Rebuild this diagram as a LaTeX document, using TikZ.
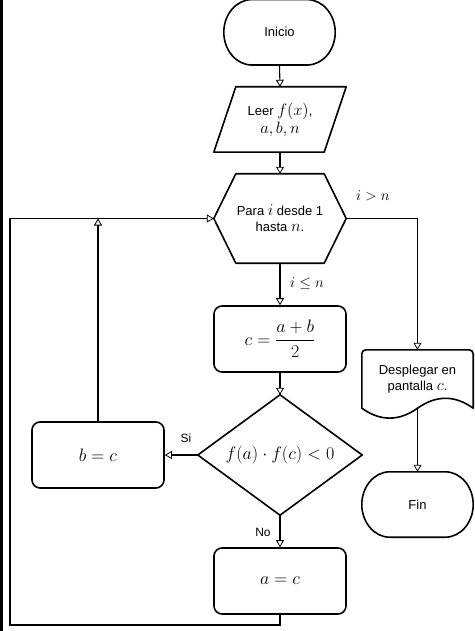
\RequirePackage{fix-cm}
\documentclass[tikz,border=0pt]{standalone}
\usepackage{fontspec}
\setmainfont{Liberation Sans}
\usetikzlibrary{arrows.meta,calc}
\newcommand\mathbig[1]{{\fontsize{18}{22}\selectfont$\displaystyle #1$}}
\newcommand\mathmid[1]{{\fontsize{16.5}{18}\selectfont$#1$}}
\newcommand\mathlbl[1]{{\fontsize{15}{18}\selectfont$#1$}}
% terminator outline with half-elliptic ends (rx=28, ry=32.5)
\newcommand\termoutline[1]{%
  \draw[shapeline] ([xshift=28pt]#1.north west) -- ([xshift=-28pt]#1.north east)
    .. controls +(15.5,0) and +(0,-17.9) .. (#1.east)
    .. controls +(0,17.9) and +(15.5,0) .. ([xshift=-28pt]#1.south east)
    -- ([xshift=28pt]#1.south west)
    .. controls +(-15.5,0) and +(0,17.9) .. (#1.west)
    .. controls +(0,-17.9) and +(-15.5,0) .. ([xshift=28pt]#1.north west) -- cycle;}
\begin{document}
\begin{tikzpicture}[x=1pt,y=-1pt,
  txt/.style={font=\fontsize{13}{16}\selectfont, align=center, text=black},
  shapeline/.style={draw=black, line width=1.6pt, line join=round},
  boxnode/.style={txt, shapeline, rounded corners=8pt, minimum width=132pt, minimum height=66pt, inner sep=0pt},
  termnode/.style={txt, minimum width=111pt, minimum height=65pt, inner sep=0pt},
  ghost/.style={txt, inner sep=0pt},
  conn/.style={draw=black, line width=1.1pt, -{Triangle[length=7pt, width=8pt, fill=white, line width=0.8pt]}},
  lbl/.style={font=\fontsize{12}{14}\selectfont, inner sep=0pt, text=black}]
\useasboundingbox (0,0) rectangle (474,631);
\fill[black] (0,0) rectangle (2.7,631);

% nodes
\node[termnode] (inicio) at (279.5,32.3) {Inicio};
\termoutline{inicio}
\node[ghost, minimum width=110pt, minimum height=65pt] (leer) at (280,119.5)
  {Leer \mathmid{f(x)},\\[2pt] \mathmid{a, b, n}};
\draw[shapeline] ([xshift=11pt]leer.north west) -- ([xshift=11pt]leer.north east)
  -- ([xshift=-11pt]leer.south east) -- ([xshift=-11pt]leer.south west) -- cycle;

\node[ghost, minimum width=132pt, minimum height=89pt] (hex) at (280,218.5)
  {Para \mathmid{i} desde 1\\hasta \mathmid{n}.};
\draw[shapeline] (hex.west) -- ([xshift=22pt]hex.north west) -- ([xshift=-22pt]hex.north east)
  -- (hex.east) -- ([xshift=-22pt]hex.south east) -- ([xshift=22pt]hex.south west) -- cycle;

\node[boxnode] (cbox) at (280,339) {\mathbig{c=\frac{a+b}{2}}};

\node[ghost, minimum width=164pt, minimum height=120pt] (dia) at (280,455)
  {\mathbig{f(a)\cdot f(c)<0}};
\draw[shapeline] (dia.north) -- (dia.east) -- (dia.south) -- (dia.west) -- cycle;

\node[boxnode] (bbox) at (98,455) {\mathbig{b=c}};
\node[boxnode] (abox) at (280,581) {\mathbig{a=c}};

\node[ghost, minimum width=111pt, minimum height=58pt] (doc) at (417.5,379)
  {Desplegar en\\pantalla \mathmid{c}.};
\draw[shapeline] (doc.south west) [rounded corners=4pt] -- (doc.north west) -- (doc.north east)
  [sharp corners] -- (doc.south east)
  .. controls +(-18.3,-13.2) and +(18.7,-13.2) .. (doc.south)
  .. controls +(-18.5,13.2) and +(18.5,13.2) .. (doc.south west) -- cycle;

\node[termnode] (fin) at (417.5,504.5) {Fin};
\termoutline{fin}

\coordinate (lb) at (10,625);

% connectors
\draw[conn] (inicio.south) -- (leer.north);
\draw[conn] (leer.south) -- (hex.north);
\draw[conn] (hex.south) -- (cbox.north);
\draw[conn] (hex.east) -| (doc.north);
\draw[conn] (cbox.south) -- (dia.north);
\draw[conn] (dia.west) -- (bbox.east);
\draw[conn] (dia.south) -- (abox.north);
\draw[conn] (abox.south) |- (lb) |- (hex.west);
\draw[conn] (bbox.north) -- (bbox.north |- hex.west);
\draw[conn] (doc.south) -- (fin.north);

% labels
\node[lbl] (lgt) at (373,196) {\mathlbl{i>n}};
\node[lbl] (lle) at (307,284) {\mathlbl{i\le n}};
\node[lbl] (lsi) at (186,438) {Si};
\node[lbl] (lno) at (263,532) {No};
\end{tikzpicture}
\end{document}
